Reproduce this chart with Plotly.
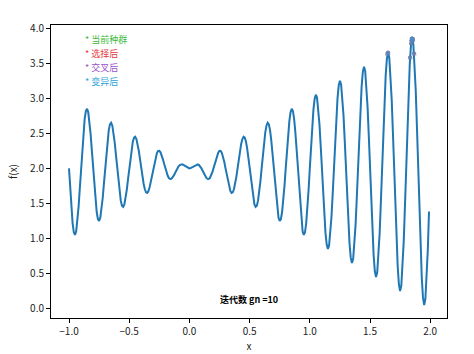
import numpy as np
import plotly.graph_objects as go

# sampling grid of the curve: x from -1.00 to 1.99, step 0.01
x_vals = np.round(np.arange(-1.0, 2.0, 0.01), 2)

# f(x) values read for each x (300 points)
y_vals = [
    2.000, 1.694, 1.424, 1.215, 1.087, 1.050, 1.106, 1.248, 1.459, 1.719,
    2.000, 2.275, 2.517, 2.704, 2.818, 2.850, 2.799, 2.671, 2.482, 2.250,
    2.000, 1.756, 1.542, 1.377, 1.277, 1.250, 1.296, 1.409, 1.577, 1.781,
    2.000, 2.213, 2.400, 2.542, 2.628, 2.650, 2.609, 2.510, 2.364, 2.189,
    2.000, 1.818, 1.659, 1.539, 1.467, 1.450, 1.486, 1.571, 1.694, 1.842,
    2.000, 2.151, 2.282, 2.380, 2.437, 2.450, 2.418, 2.348, 2.247, 2.127,
    2.000, 1.879, 1.777, 1.701, 1.658, 1.650, 1.677, 1.733, 1.812, 1.904,
    2.000, 2.090, 2.165, 2.218, 2.247, 2.250, 2.228, 2.186, 2.129, 2.065,
    2.000, 1.941, 1.894, 1.862, 1.848, 1.850, 1.867, 1.895, 1.929, 1.966,
    2.000, 2.028, 2.047, 2.057, 2.057, 2.050, 2.038, 2.024, 2.012, 2.003,
    2.000, 2.003, 2.012, 2.024, 2.038, 2.050, 2.057, 2.057, 2.047, 2.028,
    2.000, 1.966, 1.929, 1.895, 1.867, 1.850, 1.848, 1.862, 1.894, 1.941,
    2.000, 2.065, 2.129, 2.186, 2.228, 2.250, 2.247, 2.218, 2.165, 2.090,
    2.000, 1.904, 1.812, 1.733, 1.677, 1.650, 1.658, 1.701, 1.777, 1.879,
    2.000, 2.127, 2.247, 2.348, 2.418, 2.450, 2.437, 2.380, 2.282, 2.151,
    2.000, 1.842, 1.694, 1.571, 1.486, 1.450, 1.467, 1.539, 1.659, 1.818,
    2.000, 2.189, 2.364, 2.510, 2.609, 2.650, 2.628, 2.542, 2.400, 2.213,
    2.000, 1.781, 1.577, 1.409, 1.296, 1.250, 1.277, 1.377, 1.542, 1.756,
    2.000, 2.250, 2.482, 2.671, 2.799, 2.850, 2.818, 2.704, 2.517, 2.275,
    2.000, 1.719, 1.459, 1.248, 1.106, 1.050, 1.087, 1.215, 1.424, 1.694,
    2.000, 2.312, 2.600, 2.833, 2.989, 3.050, 3.008, 2.866, 2.635, 2.337,
    2.000, 1.657, 1.342, 1.086, 0.916, 0.850, 0.897, 1.053, 1.306, 1.632,
    2.000, 2.374, 2.717, 2.995, 3.179, 3.250, 3.198, 3.027, 2.752, 2.399,
    2.000, 1.595, 1.224, 0.924, 0.726, 0.650, 0.707, 0.892, 1.189, 1.570,
    2.000, 2.436, 2.835, 3.157, 3.370, 3.450, 3.389, 3.189, 2.870, 2.460,
    2.000, 1.533, 1.107, 0.762, 0.535, 0.450, 0.516, 0.730, 1.071, 1.509,
    2.000, 2.498, 2.952, 3.319, 3.560, 3.650, 3.579, 3.351, 2.987, 2.522,
    2.000, 1.472, 0.989, 0.600, 0.345, 0.250, 0.326, 0.568, 0.954, 1.447,
    2.000, 2.559, 3.070, 3.481, 3.750, 3.850, 3.769, 3.513, 3.105, 2.584,
    2.000, 1.410, 0.871, 0.439, 0.155, 0.050, 0.136, 0.406, 0.836, 1.385,
]

# population at generation 10 (individuals x, f(x))
pop_x = [1.850, 1.848, 1.853, 1.845, 1.856, 1.842, 1.851, 1.833, 1.866, 1.650, 1.646]
pop_y = [3.850, 3.844, 3.845, 3.822, 3.823, 3.784, 3.849, 3.578, 3.635, 3.650, 3.633]

series_names = ["当前种群", "选择后", "交叉后", "变异后"]
series_colors = ["#3cb93c", "#e8343c", "#9b52c8", "#2aa3dc"]

generation = 10

fig = go.Figure()
fig.add_trace(go.Scatter(
    x=x_vals, y=y_vals, mode="lines",
    line=dict(color="#1f77b4", width=2), showlegend=False, hoverinfo="skip",
))
for name, col in zip(series_names, series_colors):
    fig.add_trace(go.Scatter(
        x=pop_x, y=pop_y, mode="markers", name=name,
        marker=dict(symbol="asterisk-open", size=3.5, color=col,
                    line=dict(color=col, width=0.8)),
        opacity=0.7, showlegend=False,
    ))

# legend as coloured text
for k, (name, col) in enumerate(zip(series_names, series_colors)):
    fig.add_annotation(
        xref="paper", yref="paper", x=0.08, y=0.951 - k * 0.0485,
        text="* " + name, showarrow=False, xanchor="left", yanchor="middle",
        font=dict(family="Noto Sans CJK SC", size=9, color=col),
    )

fig.add_annotation(
    x=0.24, y=0.13, xref="x", yref="y",
    text="<b>迭代数 gn =%d</b>" % generation, showarrow=False,
    xanchor="left", yanchor="middle",
    font=dict(family="Noto Sans CJK SC", size=9, color="black"),
)

axis_common = dict(
    showline=True, linecolor="black", linewidth=1, mirror=True,
    ticks="outside", ticklen=4, tickcolor="black", tickwidth=1,
    showgrid=False, zeroline=False, automargin=False,
    tickfont=dict(family="Noto Sans CJK SC", size=10, color="#222"),
    title_font=dict(family="Noto Sans CJK SC", size=10, color="#222"),
)

fig.update_xaxes(range=[-1.1495, 2.1395], tickvals=[-1.0, -0.5, 0.0, 0.5, 1.0, 1.5, 2.0],
                 ticktext=["−1.0", "−0.5", "0.0", "0.5", "1.0", "1.5", "2.0"],
                 title_text="x", title_standoff=4, **axis_common)
fig.update_yaxes(range=[-0.135, 4.045], tickvals=[0, 0.5, 1, 1.5, 2, 2.5, 3, 3.5, 4],
                 ticktext=["0.0", "0.5", "1.0", "1.5", "2.0", "2.5", "3.0", "3.5", "4.0"],
                 title_text="f(x)", title_standoff=10, **axis_common)

fig.update_layout(
    width=474, height=354,
    margin=dict(l=51, r=27, t=25, b=36),
    plot_bgcolor="white", paper_bgcolor="white",
    showlegend=False,
)

fig.write_html("out.html")
